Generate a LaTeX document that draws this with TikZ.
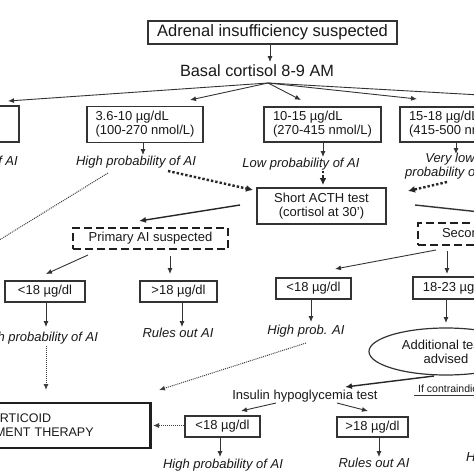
\documentclass[tikz,border=0pt]{standalone}
\usepackage{fontspec}
\setmainfont{Liberation Sans}
\usetikzlibrary{arrows.meta,shapes.geometric,calc}
\begin{document}
\begin{tikzpicture}[x=1pt,y=-1pt,
  every node/.style={font=\fontsize{13}{14}\selectfont, text=black!90, inner sep=0pt},
  box/.style={draw=black!80, line width=1.2pt, minimum height=21pt},
  dbox/.style={draw=black!88, line width=2.6pt, dash pattern=on 8pt off 4pt, minimum height=21pt},
  lab/.style={font=\fontsize{13}{14}\selectfont\itshape},
  arr/.style={draw=black!80, line width=0.9pt, -{Latex[length=6pt,width=5pt]}},
  marr/.style={draw=black!85, line width=1.4pt, -{Latex[length=7pt,width=6pt]}},
  tdot/.style={draw=black!85, line width=2.4pt, dash pattern=on 2.4pt off 2pt, -{Latex[length=7pt,width=7pt]}},
  fdot/.style={draw=black!75, line width=1pt, dash pattern=on 1pt off 1pt, -{Latex[length=6pt,width=5pt]}},
  fline/.style={draw=black!75, line width=1pt, dash pattern=on 1pt off 1pt},
  pline/.style={draw=black!80, line width=1.2pt},
]
\useasboundingbox (0,0) rectangle (474,474);
\fill[white] (0,0) rectangle (474,474);
\clip (0,0) rectangle (474,474);

% ---------- nodes ----------
\node[box, line width=1.6pt, minimum width=249pt, minimum height=23pt, font=\fontsize{16.5}{18}\selectfont] (top) at (272.5,32.5) {Adrenal insufficiency suspected};
\node[font=\fontsize{16.3}{18}\selectfont] (basal) at (257,71) {Basal cortisol 8-9 AM};

\node[box, minimum width=117pt, minimum height=36pt] (b1) at (-39.5,124) {};
\node[box, minimum width=116pt, minimum height=36pt, align=left] (b2) at (145,124.5) {3.6-10 µg/dL\\(100-270 nmol/L)};
\node[box, minimum width=117pt, minimum height=35pt, align=left] (b3) at (322.5,124.5) {10-15 µg/dL\\(270-415 nmol/L)};
\node[box, minimum width=117pt, minimum height=35pt, align=left] (b4) at (458.5,124.5) {15-18 µg/dL\\(415-500 nmol/L)};

\node[lab, anchor=east] (l1) at (18,162) {Very high probability of AI};
\node[lab] (l2) at (136,162) {High probability of AI};
\node[lab] (l3) at (301,164) {Low probability of AI};
\node[lab, align=center] (l4) at (450,166) {Very low\\probability of AI};

\node[box, minimum width=129pt, minimum height=36pt, align=center] (acth) at (321.5,206) {Short ACTH test\\(cortisol at 30')};

\node[dbox, minimum width=155pt] (prim) at (150.5,238.5) {Primary AI suspected};
\node[dbox, minimum width=189pt, minimum height=22pt] (sec) at (512.5,234) {Secondary AI suspected};

\node[box, minimum width=80pt] (p1) at (45,291.5) {<18 µg/dl};
\node[box, minimum width=77pt] (p2) at (178.5,291.5) {>18 µg/dl};
\node[box, minimum width=75pt] (s1) at (313.5,288.5) {<18 µg/dl};
\node[box, minimum width=85pt, minimum height=22pt] (s2) at (455.5,288) {18-23 µg/dl};

\node[lab] (l5) at (38,338) {High probability of AI};
\node[lab] (l6) at (178,333) {Rules out AI};
\node[lab] (l7) at (306,331) {High prob. AI};
\node[ellipse, draw=black!80, line width=1.2pt, minimum width=154pt, minimum height=47pt, align=center] (add) at (446,351.5) {Additional tests\\advised};

\node[draw=black!88, line width=2.6pt, minimum height=45pt, anchor=east, text width=206pt, inner xsep=8pt, align=left, font=\fontsize{12.5}{14}\selectfont] (gc) at (152,425.5) {GLUCOCORTICOID\\REPLACEMENT THERAPY};

\node (ins) at (305,396) {Insulin hypoglycemia test};
\node[font=\fontsize{10.5}{12}\selectfont, anchor=west] (ifc) at (418,389) {If contraindicated};
\node[box, minimum width=75pt] (c1) at (222.5,426.5) {<18 µg/dl};
\node[box, minimum width=71pt, minimum height=20pt] (c2) at (372.5,427) {>18 µg/dl};
\node[lab] (l8) at (223,465) {High probability of AI};
\node[lab] (l9) at (374,463) {Rules out AI};
\node[lab, anchor=west] (l10) at (466,458) {High probability of AI};

% ---------- coordinates ----------
\coordinate (t0) at (270,44);   \coordinate (t1) at (270,62);
\coordinate (fan) at (268,83);
\coordinate (f1) at (8,101);    \coordinate (f2) at (190,100);
\coordinate (f3) at (301,100);  \coordinate (f4) at (417,99);
\coordinate (f5) at (480,95);
\coordinate (d2a) at (143,142); \coordinate (d2b) at (143,155);
\coordinate (d3a) at (323,142); \coordinate (d3b) at (323,157);
\coordinate (d4a) at (456,142); \coordinate (d4b) at (456,154);
\coordinate (q3a) at (323,171); \coordinate (q3b) at (323,185);
\coordinate (q2a) at (168,171); \coordinate (q2b) at (253,190);
\coordinate (q4a) at (447,182); \coordinate (q4b) at (408,191);
\coordinate (z2a) at (108,173); \coordinate (z2b) at (-12,247);
\coordinate (al) at (240,205);  \coordinate (alb) at (139,221);
\coordinate (ar) at (415,205);  \coordinate (arb) at (480,212);
\coordinate (pa) at (88,255);   \coordinate (pb) at (46,274);
\coordinate (pc) at (170,256);  \coordinate (pd) at (170,274);
\coordinate (sa) at (436,250);  \coordinate (sb) at (335,269);
\coordinate (sc) at (447,251);  \coordinate (sd) at (447,274);
\coordinate (u1a) at (46,302);  \coordinate (u1b) at (46,327);
\coordinate (u2a) at (182,302); \coordinate (u2b) at (182,327);
\coordinate (u3a) at (311,299); \coordinate (u3b) at (311,322);
\coordinate (u4a) at (446,299); \coordinate (u4b) at (446,323);
\coordinate (g1a) at (46,346);  \coordinate (g1b) at (46,390);
\coordinate (g2a) at (306,343); \coordinate (g2b) at (159,390);
\coordinate (g3a) at (184,425.5); \coordinate (g3b) at (153,425.5);
\coordinate (ea) at (434,376);  \coordinate (eb) at (345,387);
\coordinate (ia) at (276,403);  \coordinate (ib) at (241,411);
\coordinate (ic) at (337,403);  \coordinate (id) at (368,411);
\coordinate (v1a) at (220,437); \coordinate (v1b) at (220,457);
\coordinate (v2a) at (379,437); \coordinate (v2b) at (379,457);
\coordinate (ca) at (414,395);  \coordinate (cb) at (480,395);

% ---------- connectors ----------
\draw[arr] (t0) -- (t1);
\draw[arr] (fan) -- (f1);
\draw[arr] (fan) -- (f2);
\draw[arr] (fan) -- (f3);
\draw[arr] (fan) -- (f4);
\draw[pline, line width=0.9pt] (fan) -- (f5);
\draw[arr] (d2a) -- (d2b);
\draw[arr] (d3a) -- (d3b);
\draw[arr] (d4a) -- (d4b);
\draw[tdot] (q3a) -- (q3b);
\draw[tdot] (q2a) -- (q2b);
\draw[tdot] (q4a) -- (q4b);
\draw[fline] (z2a) -- (z2b);
\draw[marr] (al) -- (alb);
\draw[pline, line width=1.4pt] (ar) -- (arb);
\draw[arr] (pa) -- (pb);
\draw[arr] (pc) -- (pd);
\draw[arr] (sa) -- (sb);
\draw[arr] (sc) -- (sd);
\draw[arr] (u1a) -- (u1b);
\draw[arr] (u2a) -- (u2b);
\draw[arr] (u3a) -- (u3b);
\draw[arr] (u4a) -- (u4b);
\draw[fdot] (g1a) -- (g1b);
\draw[fdot] (g2a) -- (g2b);
\draw[fdot] (g3a) -- (g3b);
\draw[marr] (ea) -- (eb);
\draw[arr] (ia) -- (ib);
\draw[arr] (ic) -- (id);
\draw[arr] (v1a) -- (v1b);
\draw[arr] (v2a) -- (v2b);
\draw[pline, line width=0.9pt] (ca) -- (cb);
\end{tikzpicture}
\end{document}
